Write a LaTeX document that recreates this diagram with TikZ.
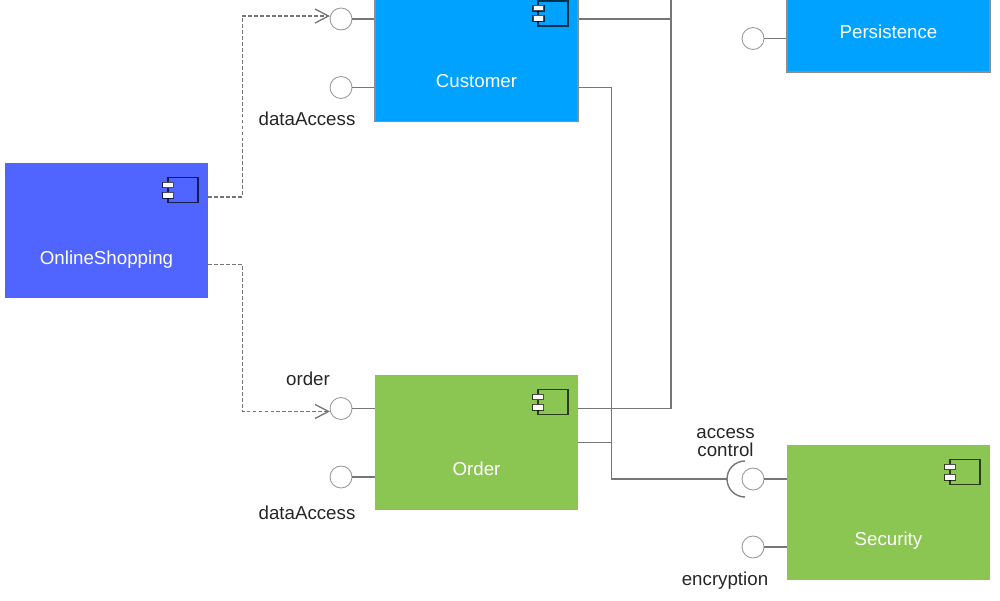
\documentclass[tikz,border=0pt]{standalone}
\usepackage{fontspec}
\setmainfont{Liberation Sans}
\usepackage{xcolor}
\usetikzlibrary{arrows.meta}

\definecolor{compblue}{RGB}{0,162,255}
\definecolor{compgreen}{RGB}{139,198,83}
\definecolor{compviolet}{RGB}{80,100,255}
\definecolor{wiregray}{RGB}{118,118,118}

\tikzset{
    pics/compicon/.style={code={
        \draw[black, draw opacity=0.7, line width=0.8pt] (-0.81,-0.30) rectangle (-0.21,-0.80);
        \draw[black, draw opacity=0.7, fill=white, line width=0.7pt] (-0.91,-0.39) rectangle (-0.69,-0.50);
        \draw[black, draw opacity=0.7, fill=white, line width=0.7pt] (-0.91,-0.59) rectangle (-0.69,-0.71);
    }}
}

\begin{document}
\begin{tikzpicture}[
    comp/.style={rectangle, inner sep=0pt, minimum width=4.06cm, minimum height=2.7cm},
    comptext/.style={text=white, font=\fontsize{10.65}{12}\selectfont, text height=8pt, text depth=2pt, inner sep=0pt},
    port/.style={circle, draw=black!40, fill=white, line width=0.5pt, inner sep=0pt, minimum size=0.44cm},
    portlabel/.style={text=black!85, font=\fontsize{10.65}{10.2}\selectfont, text height=8pt, text depth=2pt, inner sep=0pt},
    wire/.style={draw=wiregray, line width=0.8pt},
    dep/.style={draw=wiregray, line width=0.75pt, dash pattern=on 2.2pt off 1.2pt, -{Straight Barb[length=0.27cm, width=0.28cm]}}
]
    \useasboundingbox (0,0) rectangle (20,12);
    \clip (0,0) rectangle (20,12);

    % Components
    \node[comp, fill=compviolet] (online) at (2.13,7.39) {};
    \node[comp, fill=compblue, draw=black!45, line width=0.6pt] (customer) at (9.53,10.92) {};
    \node[comp, fill=compblue, draw=black!45, line width=0.6pt] (persistence) at (17.77,11.91) {};
    \node[comp, fill=compgreen] (order) at (9.53,3.15) {};
    \node[comp, fill=compgreen] (security) at (17.77,1.75) {};

    % Component names
    \node[comptext] (onlinetext) at ([yshift=-0.575cm]online.center) {OnlineShopping};
    \node[comptext] (customertext) at ([yshift=-0.56cm]customer.center) {Customer};
    \node[comptext] (persistencetext) at ([yshift=-0.575cm]persistence.center) {Persistence};
    \node[comptext] (ordertext) at ([yshift=-0.56cm]order.center) {Order};
    \node[comptext] (securitytext) at ([yshift=-0.56cm]security.center) {Security};

    % Icons
    \pic at (online.north east) {compicon};
    \pic at (customer.north east) {compicon};
    \pic at (order.north east) {compicon};
    \pic at (security.north east) {compicon};

    % Ports
    \node[port] (customerport) at (6.82,11.62) {};
    \node[port] (customerdata) at (6.82,10.25) {};
    \node[port] (orderport) at (6.82,3.83) {};
    \node[port] (orderdata) at (6.82,2.46) {};
    \node[port] (persistenceport) at (15.06,11.23) {};
    \node[port] (securityport) at (15.06,2.42) {};
    \node[port] (securitycrypt) at (15.06,1.06) {};

    % Port labels
    \node[portlabel] (customerdatalabel) at (6.14,9.59) {dataAccess};
    \node[portlabel] (orderlabel) at (6.16,4.39) {order};
    \node[portlabel] (orderdatalabel) at (6.14,1.72) {dataAccess};
    \node[portlabel, text height=, text depth=, align=center] (accesslabel) at (14.51,3.14) {access\\control};
    \node[portlabel] (cryptlabel) at (14.5,0.39) {encryption};

    % Port stems
    \draw[wire] (customerport) -- (customerport -| customer.west);
    \draw[wire] (customerdata) -- (customerdata -| customer.west);
    \draw[wire] (orderport) -- (orderport -| order.west);
    \draw[wire] (orderdata) -- (orderdata -| order.west);
    \draw[wire] (persistenceport) -- (persistenceport -| persistence.west);
    \draw[wire] (securityport) -- (securityport -| security.west);
    \draw[wire] (securitycrypt) -- (securitycrypt -| security.west);

    % Socket
    \coordinate (socket) at (14.54,2.42);
    \draw[wire] (socket) ++(0.36,0.36) arc (90:270:0.36);

    % Wires
    \coordinate (bustop) at (13.42,12.3);
    \coordinate (busmid) at (12.23,2.42);
    \draw[wire] (orderport -| order.east) -| (bustop);
    \draw[wire] (customerport -| customer.east) -- (customerport -| bustop);
    \draw[wire] (customerdata -| customer.east) -- (customerdata -| busmid) |- (socket);
    \draw[wire] (order.east) -- (order.east -| busmid);

    % Dependencies
    \draw[dep] ([yshift=0.67cm]online.east) -- ++(0.68,0) |- (customerport.165);
    \draw[dep] ([yshift=-0.68cm]online.east) -- ++(0.68,0) |- (orderport.195);
\end{tikzpicture}
\end{document}
